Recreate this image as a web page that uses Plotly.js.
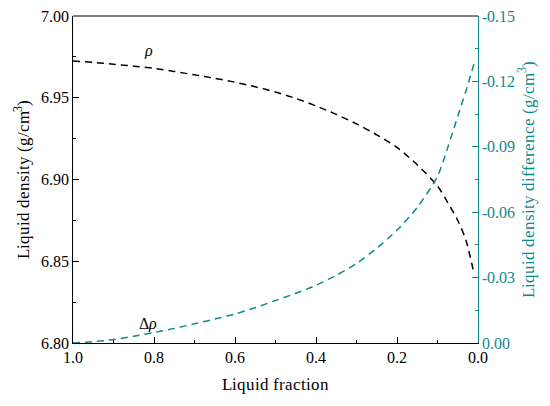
<!DOCTYPE html>
<html><head><meta charset="utf-8">
<script src="https://cdn.plot.ly/plotly-3.0.1.min.js"></script>
<style>
@font-face { font-family: 'RefSerif'; src: local('Liberation Serif'), local('LiberationSerif'), local('LiberationSerif-Regular'), local('DejaVu Serif'), local('DejaVuSerif'); font-style: normal; font-weight: 400; }
@font-face { font-family: 'RefSerif'; src: local('Liberation Serif Italic'), local('LiberationSerif-Italic'), local('DejaVu Serif Italic'), local('DejaVuSerif-Italic'); font-style: italic; font-weight: 400; }
html,body{margin:0;padding:0;background:#fff;}#chart{width:550px;height:406px;}
</style>
</head><body><div id="chart"></div>
<script>
const fraction = [1.0, 0.95, 0.9, 0.85, 0.8, 0.75, 0.7, 0.65, 0.6, 0.55, 0.5, 0.45, 0.4, 0.35, 0.3, 0.25, 0.2, 0.15, 0.1, 0.075, 0.05, 0.03, 0.01];
const rho =      [6.9725, 6.9716, 6.9705, 6.9693, 6.968, 6.9661, 6.964, 6.9619, 6.9595, 6.9567, 6.9535, 6.9496, 6.945, 6.9398, 6.934, 6.9273, 6.9196, 6.909, 6.896, 6.886, 6.875, 6.863, 6.8425];
const deltaRho = [0, -0.0006, -0.0016, -0.0031, -0.0048, -0.0067, -0.0088, -0.011, -0.0133, -0.0162, -0.0195, -0.0228, -0.0265, -0.031, -0.0365, -0.0435, -0.0518, -0.0622, -0.0765, -0.0895, -0.104, -0.1155, -0.128];
const xTicks = [1.0, 0.8, 0.6, 0.4, 0.2, 0.0];
const xTickText = ['1.0', '0.8', '0.6', '0.4', '0.2', '0.0'];
const yTicks = [6.80, 6.85, 6.90, 6.95, 7.00];
const yTickText = ['6.80', '6.85', '6.90', '6.95', '7.00'];
const y2Ticks = [0, -0.03, -0.06, -0.09, -0.12, -0.15];
const y2TickText = ['0.00', '-0.03', '-0.06', '-0.09', '-0.12', '-0.15'];

const teal = '#0e8a8a';
const fam = 'RefSerif, Liberation Serif, serif';

const data = [
  {x: fraction, y: rho, type: 'scatter', mode: 'lines', line: {color: '#000', width: 1.5, dash: '7px,5px', shape: 'spline', smoothing: 0.8}, xaxis: 'x', yaxis: 'y', hoverinfo: 'skip'},
  {x: fraction, y: deltaRho, type: 'scatter', mode: 'lines', line: {color: teal, width: 1.5, dash: '7px,5px', shape: 'spline', smoothing: 0.8}, xaxis: 'x', yaxis: 'y2', hoverinfo: 'skip'}
];

const layout = {
  width: 550, height: 406,
  margin: {l: 73, r: 72, t: 16, b: 63},
  showlegend: false,
  paper_bgcolor: '#fff', plot_bgcolor: '#fff',
  font: {family: fam, size: 16, color: '#000'},
  xaxis: {
    range: [1.0, 0.0], showgrid: false, zeroline: false,
    showline: true, linecolor: '#000', linewidth: 1.2,
    ticks: 'inside', ticklen: 6, tickcolor: '#000',
    tickvals: xTicks, ticktext: xTickText,
    minor: {ticks: 'inside', ticklen: 3, dtick: 0.1, tickcolor: '#000', showgrid: false},
    tickfont: {family: fam, size: 16, color: '#000'},
    title: {text: 'Liquid fraction', font: {family: fam, size: 17, color: '#000'}, standoff: 12}
  },
  yaxis: {
    range: [6.80, 7.00], showgrid: false, zeroline: false,
    showline: true, linecolor: '#000', linewidth: 1.2,
    ticks: 'inside', ticklen: 6, tickcolor: '#000',
    tickvals: yTicks, ticktext: yTickText,
    minor: {ticks: 'inside', ticklen: 3, dtick: 0.025, tickcolor: '#000', showgrid: false},
    tickfont: {family: fam, size: 16, color: '#000'},
    title: {text: 'Liquid density (g/cm<sup>3</sup>)', font: {family: fam, size: 17, color: '#000'}, standoff: 6}
  },
  yaxis2: {
    overlaying: 'y', side: 'right', anchor: 'x',
    range: [0, -0.15], showgrid: false, zeroline: false,
    showline: true, linecolor: teal, linewidth: 1.2,
    ticks: 'inside', ticklen: 6, tickcolor: teal,
    tickvals: y2Ticks, ticktext: y2TickText,
    minor: {ticks: 'inside', ticklen: 3, dtick: 0.015, tickcolor: teal, showgrid: false},
    tickfont: {family: fam, size: 16, color: teal},
    title: {text: 'Liquid density difference (g/cm<sup>3</sup>)', font: {family: fam, size: 17, color: teal}, standoff: 6}
  },
  shapes: [
    {type: 'line', xref: 'paper', yref: 'paper', x0: 0, x1: 1, y0: 1, y1: 1, line: {color: '#000', width: 1.2}}
  ],
  annotations: [
    {x: 0.813, y: 6.979, xref: 'x', yref: 'y', text: '<i>ρ</i>', showarrow: false, font: {family: fam, size: 16, color: '#000'}},
    {x: 0.815, y: 6.812, xref: 'x', yref: 'y', text: 'Δ<i>ρ</i>', showarrow: false, font: {family: fam, size: 16, color: '#000'}}
  ]
};

function draw() { Plotly.newPlot('chart', data, layout, {displayModeBar: false, staticPlot: true}); }
if (document.fonts && document.fonts.load) {
  Promise.all([document.fonts.load("16px RefSerif"), document.fonts.load("italic 16px RefSerif")]).then(draw, draw);
} else { draw(); }
</script>
</body></html>
